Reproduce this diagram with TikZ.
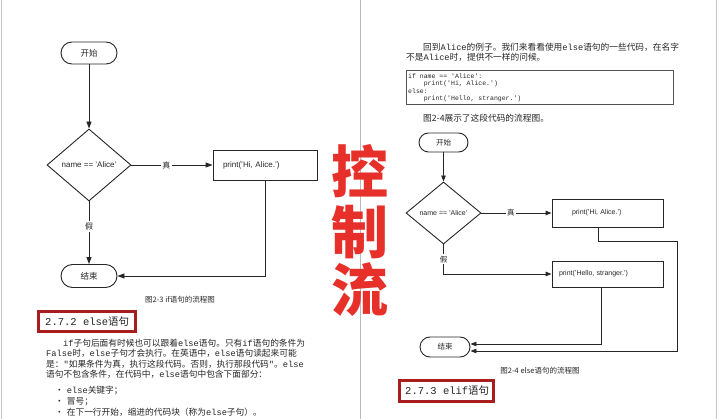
\documentclass[tikz,border=0pt]{standalone}
\usepackage{fontspec}
\setmainfont{Liberation Sans}
\newfontfamily\cjk{Noto Sans CJK SC}
\newfontfamily\code{Liberation Mono}
\usetikzlibrary{arrows.meta,shapes.geometric}
\definecolor{ink}{rgb}{0.15,0.15,0.15}
\definecolor{hred}{RGB}{168,30,30}
\definecolor{bigred}{RGB}{232,48,42}
\newcommand\lat[1]{{\code #1}}
\newcommand\bodyfont{\cjk\fontsize{8.7}{10}\selectfont}
\begin{document}
\begin{tikzpicture}[x=1pt,y=-1pt,
  line/.style={draw=ink, line width=0.9pt},
  arr/.style={line, -{Triangle[length=7pt,width=5pt]}},
  arrs/.style={line, -{Triangle[length=6pt,width=4.5pt]}},
  term/.style={draw=ink, line width=0.9pt, rectangle, inner sep=0pt, text=ink},
  dia/.style={draw=ink, line width=0.9pt, diamond, inner sep=0pt, text=ink},
  pbox/.style={draw=ink, line width=0.9pt, rectangle, inner ysep=0pt, align=left, text=ink},
  lbl/.style={fill=white, inner sep=1.5pt, text=ink, font=\cjk\fontsize{8}{9}\selectfont},
  body/.style={anchor=west, inner sep=0pt, text=ink, font=\bodyfont},
  figcap/.style={inner sep=0pt, text=ink, font=\cjk\fontsize{7.5}{8}\selectfont},
  head/.style={draw=hred, line width=3.2pt, rectangle, inner sep=0pt},
  bigc/.style={inner sep=0pt, text=bigred, font=\cjk\bfseries\fontsize{57}{60}\selectfont}
]
\useasboundingbox (0,0) rectangle (720,419);
\fill[white] (0,0) rectangle (720,419);
% page edges and gutter
\draw[gray!45, line width=0.8pt] (1.5,0) -- (1.5,419);
\draw[gray!45, line width=0.8pt] (716,0) -- (716,419);
\draw[gray!55, line width=1pt] (360,0) -- (360,419);

% ---------- left page flowchart ----------
\node[term, rounded corners=11pt, minimum width=56pt, minimum height=22pt,
      font=\cjk\fontsize{8.5}{9}\selectfont] (s1) at (89,53) {开始};
\node[dia, minimum width=84pt, minimum height=72pt,
      font=\fontsize{8}{9}\selectfont] (d1) at (89,165) {name == 'Alice'};
\node[pbox, minimum height=30pt, text width=84pt, inner xsep=10pt,
      font=\fontsize{8}{9}\selectfont] (b1) at (265,165) {print('Hi, Alice.')};
\node[term, rounded corners=11.5pt, minimum width=56pt, minimum height=23pt,
      font=\cjk\fontsize{8.5}{9}\selectfont] (e1) at (89,276) {结束};
\draw[arr] (s1) -- (d1);
\draw[arr] (d1.east) -- node[lbl, pos=0.43] {真} (b1.west);
\draw[arr] (d1.south) -- node[lbl, pos=0.4] {假} (e1.north);
\draw[arr] (b1.south) |- (e1.east);
\node[figcap] (c1) at (180,300) {图2-3 if语句的流程图};

% heading 2.7.2
\node[head, minimum width=97pt, minimum height=20pt] (h1) at (87,321.5) {};
\node[inner sep=0pt, anchor=west, text=ink] (h1t) at (45,322)
  {\code\fontsize{10.5}{12}\selectfont 2.7.2 else{\cjk 语句}};

% body text left
\node[body] (p1) at (63,343) {\lat{if}子句后面有时候也可以跟着\lat{else}语句。只有\lat{if}语句的条件为};
\node[body] (p2) at (46,353.5) {\lat{False}时，\lat{else}子句才会执行。在英语中，\lat{else}语句读起来可能};
\node[body] (p3) at (46,364) {是：\lat{"}如果条件为真，执行这段代码。否则，执行那段代码\lat{"}。\lat{else}};
\node[body] (p4) at (46,374.5) {语句不包含条件，在代码中，\lat{else}语句中包含下面部分：};
\node[body] (u1) at (55,391) {•\hspace{3pt}\lat{else}关键字；};
\node[body] (u2) at (55,401.5) {•\hspace{3pt}冒号；};
\node[body] (u3) at (55,412) {•\hspace{3pt}在下一行开始，缩进的代码块（称为\lat{else}子句）。};

% ---------- big red title ----------
\node[bigc] (t1) at (360,171) {控};
\node[bigc] (t2) at (360,232) {制};
\node[bigc] (t3) at (360,290) {流};

% ---------- right page ----------
\node[body] (q1) at (423,47) {回到\lat{Alice}的例子。我们来看看使用\lat{else}语句的一些代码，在名字};
\node[body] (q2) at (406,57.5) {不是\lat{Alice}时，提供不一样的问候。};
\node[draw=ink!80, line width=1pt, minimum width=267pt, minimum height=34pt, inner sep=0pt] (cb) at (539.5,88) {};
\node[anchor=north west, inner sep=0pt, align=left, text=ink,
      font=\code\fontsize{6.5}{7.4}\selectfont] (code) at (408,73.5)
  {if name == 'Alice':\\
   \ \ \ \ print('Hi, Alice.')\\
   else:\\
   \ \ \ \ print('Hello, stranger.')};
\node[body] (q3) at (423,118) {图2-4展示了这段代码的流程图。};

\node[term, rounded corners=9.5pt, minimum width=49pt, minimum height=19pt,
      font=\cjk\fontsize{7.5}{8}\selectfont] (s2) at (443.5,142.5) {开始};
\node[dia, minimum width=75pt, minimum height=62pt,
      font=\fontsize{7}{8}\selectfont] (d2) at (443.5,213) {name == 'Alice'};
\node[pbox, minimum height=28pt, text width=71pt, inner xsep=20pt,
      font=\fontsize{7}{8}\selectfont] (b2) at (607.5,213) {print('Hi, Alice.')};
\node[pbox, minimum height=26pt, text width=97pt, inner xsep=7pt,
      font=\fontsize{7}{8}\selectfont] (b3) at (607.5,274) {print('Hello, stranger.')};
\node[term, rounded corners=10pt, minimum width=50pt, minimum height=20pt,
      font=\cjk\fontsize{7.5}{8}\selectfont] (e2) at (445,347) {结束};
\coordinate (r1) at (677,241);
\draw[arrs] (s2) -- (d2);
\draw[arrs] (d2.east) -- node[lbl, font=\cjk\fontsize{7.5}{8}\selectfont, pos=0.42] {真} (b2.west);
\draw[arrs] (d2.south) -- node[lbl, font=\cjk\fontsize{7.5}{8}\selectfont, pos=0.5] {假} (d2.south |- b3.west) -- (b3.west);
\draw[arrs] ([xshift=-9.5pt]b2.south) |- (r1) |- ([yshift=-4pt]e2.east);
\draw[arrs] ([xshift=-6.5pt]b3.south) |- ([yshift=3pt]e2.east);
\node[figcap] (c2) at (540,371) {图2-4 else语句的流程图};

% heading 2.7.3
\node[head, minimum width=93.5pt, minimum height=21pt] (h2) at (446.5,391) {};
\node[inner sep=0pt, anchor=west, text=ink] (h2t) at (405,391)
  {\code\fontsize{10.5}{12}\selectfont 2.7.3 elif{\cjk 语句}};
\end{tikzpicture}
\end{document}
